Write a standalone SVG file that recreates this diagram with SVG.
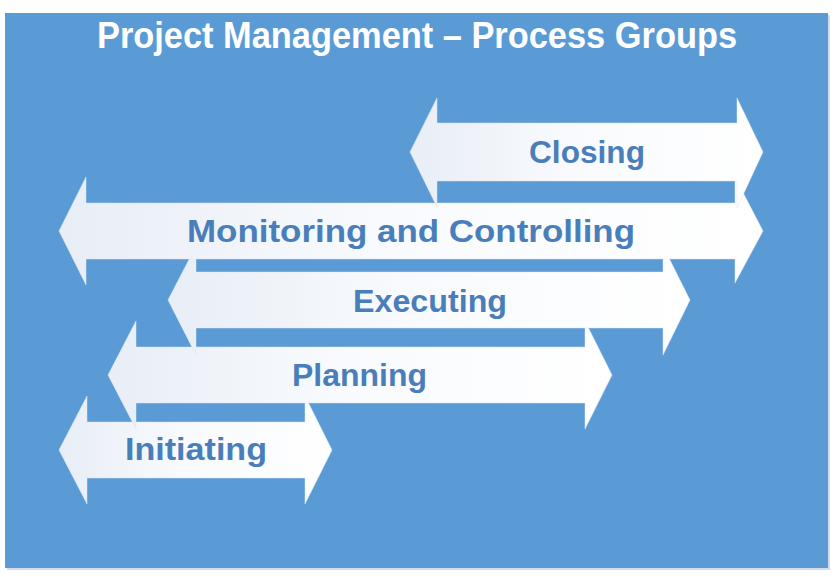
<svg xmlns="http://www.w3.org/2000/svg" width="835" height="577" viewBox="0 0 835 577">
  <defs>
    <linearGradient id="arrowFill" x1="0" y1="0" x2="1" y2="0">
      <stop offset="0" stop-color="#E8EEF6"/>
      <stop offset="0.45" stop-color="#F8FAFD"/>
      <stop offset="1" stop-color="#FFFFFF"/>
    </linearGradient>
  </defs>
  <style>
    .arrow { fill: url(#arrowFill); stroke: #DCE5F0; stroke-width: 0.5; }
    .label { font-family: "Liberation Sans", Arial, sans-serif; font-weight: bold; font-size: 32px; fill: #4A7EBB; }
    .title { font-family: "Liberation Sans", Arial, sans-serif; font-weight: bold; font-size: 36px; fill: #FFFFFF; }
  </style>
  <rect width="835" height="577" fill="#FFFFFF"/>
  <rect x="7" y="15" width="823" height="555" fill="#D5DEE8"/>
  <rect id="background" x="5" y="13" width="823" height="555" fill="#5B9BD5"/>
  <text class="title" x="97" y="48" textLength="640" lengthAdjust="spacingAndGlyphs">Project Management – Process Groups</text>

  <g id="initiating">
    <polygon class="arrow" points="59,450 87,396 87,422 305,422 305,396 332,450 305,504 305,478 87,478 87,504"/>
    <text class="label" x="125" y="460" textLength="142" lengthAdjust="spacingAndGlyphs">Initiating</text>
  </g>
  <g id="planning">
    <polygon class="arrow" points="108,375 136,321 136,347 585,347 585,321 612,375 585,429 585,403 136,403 136,429"/>
    <text class="label" x="292" y="386" textLength="135" lengthAdjust="spacingAndGlyphs">Planning</text>
  </g>
  <g id="executing">
    <polygon class="arrow" points="168,300 196,246 196,272 663,272 663,246 690,300 663,355 663,328 196,328 196,355"/>
    <text class="label" x="353" y="312" textLength="154" lengthAdjust="spacingAndGlyphs">Executing</text>
  </g>
  <g id="monitoring">
    <polygon class="arrow" points="59,231 86,177 86,203 735,203 735,177 763,231 735,283 735,259 86,259 86,285"/>
    <text class="label" x="187" y="242" textLength="448" lengthAdjust="spacingAndGlyphs">Monitoring and Controlling</text>
  </g>
  <g id="closing">
    <polygon class="arrow" points="410,152 437,98 437,123 737,123 737,98 763,152 737,208 737,181 437,181 437,207"/>
    <text class="label" x="529" y="163" textLength="116" lengthAdjust="spacingAndGlyphs">Closing</text>
  </g>
  <g id="connectors"/>
</svg>
